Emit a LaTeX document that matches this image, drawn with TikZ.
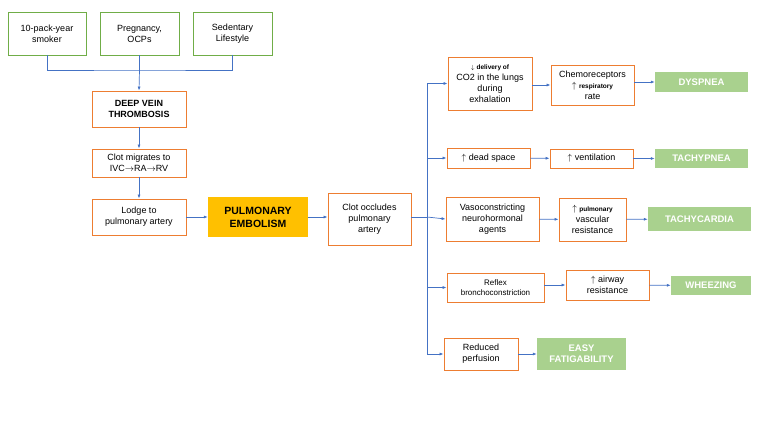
\documentclass[tikz,border=0pt]{standalone}
\usepackage{fontspec}
\setmainfont{Liberation Sans}
\usetikzlibrary{arrows.meta}
\definecolor{bl}{HTML}{4472C4}
\definecolor{og}{HTML}{ED7D31}
\definecolor{gb}{HTML}{70AD47}
\definecolor{gf}{HTML}{A9D18E}
\definecolor{pe}{HTML}{FFC000}
\newcommand{\smb}[1]{{\bfseries\fontsize{6.5}{8}\selectfont #1}}
\begin{document}
\begin{tikzpicture}[x=1pt,y=-1pt,
  base/.style={draw,line width=0.8pt,align=center,inner sep=1pt,font=\fontsize{9}{11}\selectfont},
  gbox/.style={base,draw=gb},
  obox/.style={base,draw=og},
  sym/.style={fill=gf,align=center,text=white,inner sep=1pt,font=\bfseries\fontsize{9.5}{11}\selectfont},
  arr/.style={draw=bl,line width=0.7pt,-{Latex[length=4pt,width=3pt]}},
  ln/.style={draw=bl,line width=0.7pt}]
\useasboundingbox (0,0) rectangle (768,433);
\node[gbox,minimum width=78,minimum height=43] (smk) at (47,33.5) {10-pack-year\\smoker};
\node[gbox,minimum width=79,minimum height=43] (prg) at (139.5,33.5) {Pregnancy,\\OCPs};
\node[gbox,minimum width=79,minimum height=43] (sed) at (232.5,33.5) {Sedentary\\Lifestyle};
\node[obox,minimum width=94,minimum height=36,font=\bfseries\fontsize{9}{11}\selectfont] (dvt) at (139,109) {DEEP VEIN\\THROMBOSIS};
\node[obox,minimum width=94,minimum height=28] (mig) at (139,163) {Clot migrates to\\IVC$\rightarrow$RA$\rightarrow$RV};
\node[obox,minimum width=94,minimum height=36] (lod) at (139,217) {Lodge to\\pulmonary artery};
\node[fill=pe,minimum width=100,minimum height=40,align=center,inner sep=1pt,font=\bfseries\fontsize{10.5}{13}\selectfont] (pe) at (258,217) {PULMONARY\\EMBOLISM};
\node[obox,minimum width=83,minimum height=52] (occ) at (369.5,219) {Clot occludes\\pulmonary\\artery};
\coordinate (j) at (427,217);
\coordinate (top) at (427,83.5);
\coordinate (bot) at (427,354);
\node[obox,minimum width=84,minimum height=53] (del) at (490,83.5) {\smb{$\downarrow$ delivery of}\\CO2 in the lungs\\during\\exhalation};
\node[obox,minimum width=83,minimum height=40] (che) at (592.5,85) {Chemoreceptors\\$\uparrow$ \smb{respiratory}\\rate};
\node[sym,minimum width=93,minimum height=20] (dys) at (701.5,82) {DYSPNEA};
\node[obox,minimum width=83,minimum height=20] (ded) at (488.5,158) {$\uparrow$ dead space};
\node[obox,minimum width=83,minimum height=19] (ven) at (591.5,158.5) {$\uparrow$ ventilation};
\node[sym,minimum width=93,minimum height=19] (tpn) at (701.5,158.5) {TACHYPNEA};
\node[obox,minimum width=93,minimum height=44] (vas) at (492.5,219) {Vasoconstricting\\neurohormonal\\agents};
\node[obox,minimum width=67,minimum height=43] (pvr) at (592.5,219.5) {$\uparrow$ \smb{pulmonary}\\vascular\\resistance};
\node[sym,minimum width=103,minimum height=24] (tcd) at (699.5,219) {TACHYCARDIA};
\node[obox,minimum width=97,minimum height=29,font=\fontsize{8}{10}\selectfont] (ref) at (495.5,287.5) {Reflex\\bronchoconstriction};
\node[obox,minimum width=83,minimum height=30] (air) at (607.5,285) {$\uparrow$ airway\\resistance};
\node[sym,minimum width=80,minimum height=19] (whz) at (711,285.5) {WHEEZING};
\node[obox,minimum width=74,minimum height=32] (red) at (481,354) {Reduced\\perfusion};
\node[sym,minimum width=89,minimum height=32] (eas) at (581.5,354) {EASY\\FATIGABILITY};
\draw[ln] (smk.south) |- (139.5,70) -| (sed.south);
\draw[ln] (prg.south) -- (139.5,70);
\draw[arr] (139.5,70) -- (dvt.north);
\draw[arr] (dvt) -- (mig);
\draw[arr] (mig) -- (lod);
\draw[arr] (lod) -- (pe);
\draw[arr] (pe) -- (pe.east -| occ.west);
\draw[ln] (occ.east |- j) -- (j);
\draw[ln] (top) -- (bot);
\draw[arr] (top) -- (del.west);
\draw[arr] (427,158) -- (ded.west);
\draw[arr] (j) -- (vas.west);
\draw[arr] (427,287.5) -- (ref.west);
\draw[arr] (bot) -- (red.west);
\draw[arr] (del.east |- che) -- (che.west);
\draw[arr] (che.east |- dys) -- (dys.west);
\draw[arr] (ded) -- (ven);
\draw[arr] (ven) -- (tpn);
\draw[arr] (vas) -- (pvr);
\draw[arr] (pvr) -- (tcd);
\draw[arr] (ref.east |- air) -- (air.west);
\draw[arr] (air) -- (whz);
\draw[arr] (red) -- (eas);
\end{tikzpicture}
\end{document}
